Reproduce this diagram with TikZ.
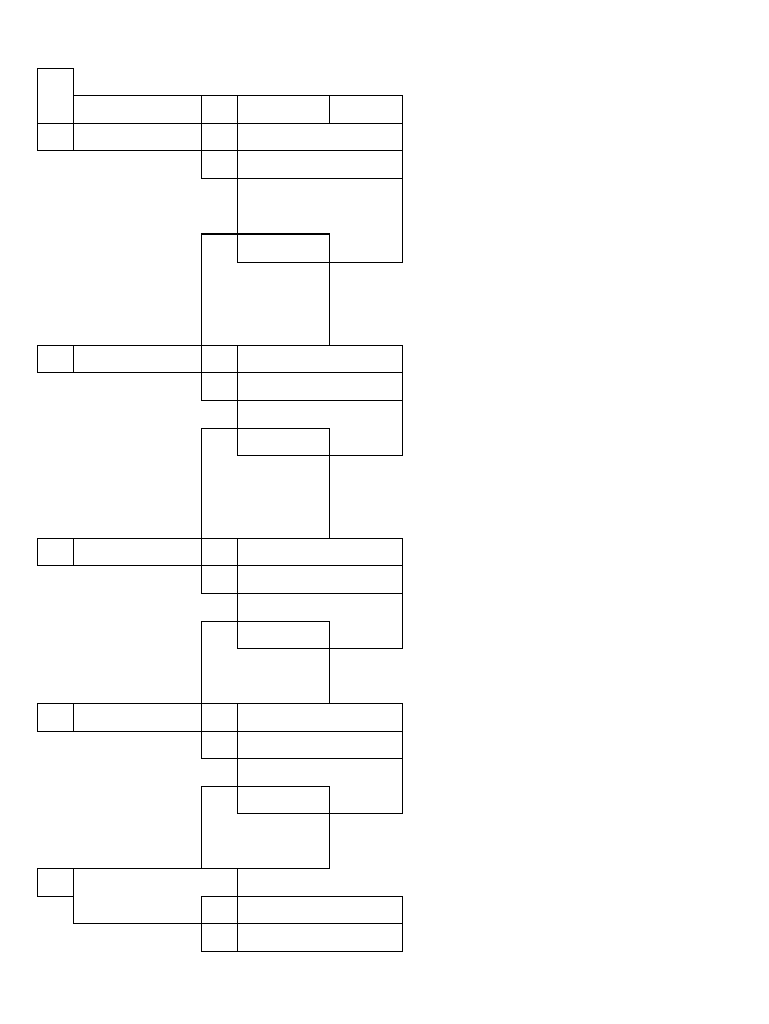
\documentclass[tikz,border=0pt]{standalone}
\begin{document}
\begin{tikzpicture}[x=1pt,y=-1pt,
  cell/.style={draw=black, line width=1pt, rectangle, inner sep=0pt, outer sep=0pt, fill=none}]
\newcommand{\cell}[5]{\node[cell, minimum width={(#4-#2)*1pt}, minimum height={(#5-#3)*1pt}] (#1) at ({(#2+#4)/2},{(#3+#5)/2}) {};}
\useasboundingbox (0,0) rectangle (768,1024);
% section 1
\cell{a0}{37}{69}{73}{124}
\cell{a1}{73}{96}{201}{124}
\cell{a2}{201}{96}{237}{124}
\cell{a3}{237}{96}{329}{124}
\cell{a4}{329}{96}{402}{124}
\cell{a5}{37}{124}{73}{151}
\cell{a6}{73}{124}{201}{151}
\cell{a7}{201}{124}{237}{151}
\cell{a8}{237}{124}{402}{151}
\cell{a9}{201}{151}{237}{179}
\cell{a10}{237}{151}{402}{179}
\cell{a11}{237}{179}{402}{262}
\cell{a12}{201}{234}{329}{345}
% section 2
\cell{b0}{37}{345}{73}{372}
\cell{b1}{73}{345}{201}{372}
\cell{b2}{201}{345}{237}{372}
\cell{b3}{237}{345}{402}{372}
\cell{b4}{201}{372}{237}{400}
\cell{b5}{237}{372}{402}{400}
\cell{b6}{237}{400}{402}{455}
\cell{b7}{201}{428}{329}{538}
% section 3
\cell{c0}{37}{538}{73}{565}
\cell{c1}{73}{538}{201}{565}
\cell{c2}{201}{538}{237}{565}
\cell{c3}{237}{538}{402}{565}
\cell{c4}{201}{565}{237}{593}
\cell{c5}{237}{565}{402}{593}
\cell{c6}{237}{593}{402}{648}
\cell{c7}{201}{621}{329}{703}
% section 4
\cell{d0}{37}{703}{73}{731}
\cell{d1}{73}{703}{201}{731}
\cell{d2}{201}{703}{237}{731}
\cell{d3}{237}{703}{402}{731}
\cell{d4}{201}{731}{237}{758}
\cell{d5}{237}{731}{402}{758}
\cell{d6}{237}{758}{402}{813}
\cell{d7}{201}{786}{329}{868}
% section 5
\cell{e0}{37}{868}{73}{896}
\cell{e1}{73}{868}{237}{923}
\cell{e2}{201}{896}{237}{923}
\cell{e3}{237}{896}{402}{923}
\cell{e4}{201}{923}{237}{951}
\cell{e5}{237}{923}{402}{951}
\end{tikzpicture}
\end{document}
